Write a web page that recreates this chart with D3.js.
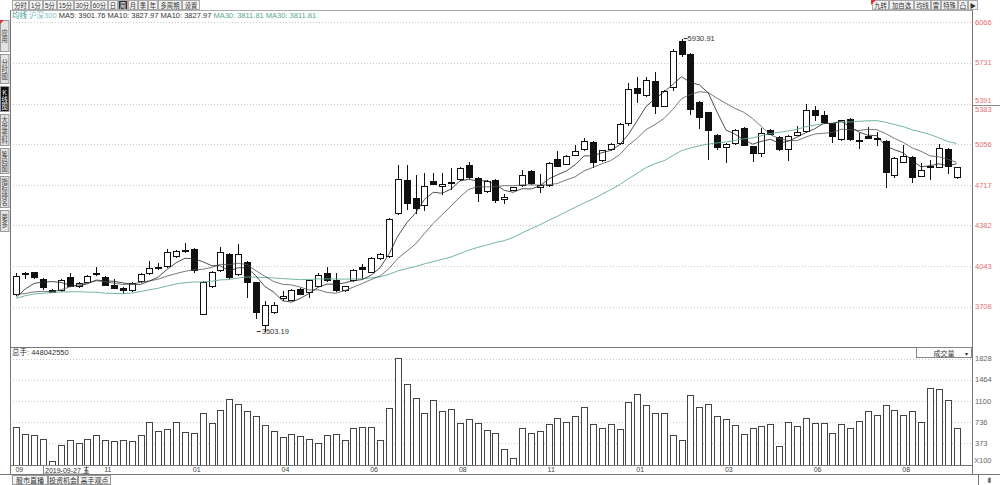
<!DOCTYPE html>
<html>
<head>
<meta charset="utf-8">
<script src="https://cdn.jsdelivr.net/npm/d3@7"></script>
<style>
  body { margin: 0; background: #fff; }
  svg { display: block; font-family: "Liberation Sans", "Noto Sans CJK SC", sans-serif; }
</style>
</head>
<body>
<div id="chart"></div>
<script>
// Datos semanales (沪深300, velas semanales)
const opens  = [3814,3980,3990,3935,3847,3840,3952,3874,3913,3975,3952,3883,3858,3841,3916,3980,4028,4040,4123,4178,4184,3648,3880,4012,4139,3972,4073,3907,3557,3662,3780,3764,3853,3825,3880,3980,3922,3841,3924,4035,3993,4110,4123,4482,4752,4606,4551,4744,4702,4730,4764,4882,4772,4661,4758,4600,4675,4716,4832,4700,4716,4929,4890,4965,5012,5072,4918,5012,5062,5227,5517,5462,5572,5370,5525,5905,5801,5398,5315,5130,5028,5062,5186,5033,4979,5166,5111,5012,5130,5158,5332,5296,5227,5097,5260,5080,5122,5105,5080,4799,4907,4946,4791,4862,4863,5015,4780]
const highs  = [3988,3995,4000,3945,3855,3935,3990,3910,3972,4037,3960,3935,3868,3910,3985,4085,4075,4185,4180,4235,4195,3920,4005,4200,4150,4230,4085,3915,3760,3745,3835,3858,3865,3932,3985,4035,3985,3882,4020,4062,4120,4155,4440,4885,4885,4800,4820,4820,4815,4855,4870,4910,4785,4755,4770,4640,4705,4845,4840,4810,4905,5000,4965,5050,5105,5080,5010,5062,5230,5560,5612,5615,5655,5505,5845,5930.91,5815,5410,5325,5140,5062,5180,5195,5040,5190,5185,5125,5135,5210,5385,5375,5330,5235,5258,5270,5150,5200,5160,5090,4950,5050,4960,4900,4925,5055,5025,4870]
const lows   = [3800,3940,3940,3850,3820,3832,3870,3866,3905,3965,3878,3855,3810,3832,3905,3972,4010,4030,4110,4150,3985,3640,3865,4000,3940,3960,3778,3610,3503.19,3650,3760,3752,3805,3783,3870,3915,3830,3830,3912,3935,3985,4100,4115,4470,4510,4480,4500,4715,4635,4680,4750,4770,4580,4650,4570,4560,4668,4705,4720,4655,4705,4865,4880,4955,5000,4860,4905,5000,5050,5205,5400,5450,5310,5360,5495,5780,5300,5180,4925,5010,4900,5050,5038,4910,4950,5130,5000,4920,5120,5150,5250,5225,5065,5085,5085,5020,5095,5040,4690,4772,4900,4735,4780,4760,4855,4805,4770]
const closes = [3955,3988,3948,3866,3828,3922,3880,3902,3963,3982,3886,3863,3839,3902,3977,4027,4033,4156,4170,4164,4012,3908,3993,4160,3952,4145,3907,3662,3717,3717,3790,3847,3814,3924,3971,3924,3839,3874,4012,4019,4110,4145,4432,4763,4565,4523,4708,4725,4725,4740,4855,4780,4648,4744,4586,4610,4697,4799,4730,4712,4896,4874,4956,4992,5075,4901,5000,5053,5221,5509,5476,5586,5370,5495,5828,5795,5343,5277,5166,5028,5053,5172,5048,4979,5145,5139,5012,5122,5149,5337,5296,5235,5116,5249,5095,5086,5105,5095,4824,4938,4956,4780,4841,4870,5020,4874,4863]
// 成交量 (x100)
const volumes = [647,532,498,446,57,332,429,372,446,498,418,401,429,401,509,733,572,613,733,555,544,876,716,944,1128,1042,915,829,675,572,469,527,486,446,372,498,515,429,630,640,647,412,973,1832,1386,1145,876,1104,915,956,716,773,716,595,544,258,115,618,544,572,687,802,733,841,991,687,618,687,601,1070,1202,1013,876,888,498,429,1185,991,1030,829,773,670,527,630,658,699,326,733,658,802,716,704,544,687,630,755,915,858,1018,932,858,915,733,1317,1300,1099,630]
// cierres semanales previos a la ventana visible (solo para las medias móviles)
const closesBefore = [3320,3530,3680,3670,3755,3840,3882,4072,3998,4130,3910,3923,3744,3607,3590,3640,3589,3660,3863,3836,3903,3818,3818,3868,3757,3644,3720,3809,3809]

const priceTicks = [6066, 5731, 5391, 5056, 4717, 4382, 4043, 3708]
const volTicks = [1828, 1464, 1100, 736, 373]
const dateTickIdx = [0, 10, 20, 30, 40, 50, 60, 70, 80, 90, 100]
const dateTickLabels = ["09", "11", "01", "04", "06", "08", "11", "01", "03", "06", "08"]
const cursorIdx = 3
const cursorDate = "2019-09-27 五"
const cursorPrice = 5383

const toolbarLeft = ["分时", "1分", "5分", "15分", "30分", "60分", "日", "周", "月", "季", "年", "多周期", "设置"]
const toolbarRight = ["九转", "加自选", "均线", "雷", "特殊", "凸", "▶"]
const sideTabs = ["应用", "分时图", "K线图", "大盘资料", "筹码图", "指标排名", "更多"]
const bottomTabs = ["股市直播", "投资机会", "高手观点"]

const W = 1000, H = 485
const left = 10, axisX = 972
const n = closes.length

const svg = d3.select("#chart").append("svg").attr("width", W).attr("height", H)

// Escalas
const x = d3.scaleBand().domain(d3.range(n)).range([12, 961])
const cx = (i) => x(i) + x.bandwidth() / 2
const y = d3.scaleLinear().domain([3708, 6066]).range([306.8, 22.3])
const yv = d3.scaleLinear().domain([0, 1828]).range([465, 358.5])
const bw = 6

// Medias móviles
const allCloses = closesBefore.concat(closes)
const ma = (k) => closes.map((c, i) => {
  const j = i + closesBefore.length
  return d3.mean(allCloses.slice(Math.max(0, j - k + 1), j + 1))
})
const ma5 = ma(5), ma10 = ma(10), ma30 = ma(30)

// Rejilla de precios
svg.append("g").selectAll("line").data(priceTicks).join("line")
  .attr("x1", left).attr("x2", axisX)
  .attr("y1", d => Math.round(y(d)) + 0.5).attr("y2", d => Math.round(y(d)) + 0.5)
  .attr("stroke", "#c8c8c8").attr("stroke-dasharray", "1,2")

svg.append("g").selectAll("text").data(priceTicks).join("text")
  .attr("x", axisX + 3).attr("y", d => y(d))
  .attr("dy", d => d === 5391 ? "-0.05em" : "0.35em")
  .attr("font-size", 7.5).attr("fill", "#e07070")
  .text(d => d)

svg.append("text").attr("x", axisX + 3).attr("y", y(cursorPrice)).attr("dy", "0.95em")
  .attr("font-size", 7.5).attr("fill", "#e07070").text(cursorPrice)
svg.append("line").attr("x1", axisX).attr("x2", W)
  .attr("y1", Math.round(y(cursorPrice)) + 0.5).attr("y2", Math.round(y(cursorPrice)) + 0.5)
  .attr("stroke", "#888")

// Rejilla de volumen
svg.append("g").selectAll("line").data(volTicks).join("line")
  .attr("x1", left).attr("x2", axisX)
  .attr("y1", d => Math.round(yv(d)) + 0.5).attr("y2", d => Math.round(yv(d)) + 0.5)
  .attr("stroke", "#c8c8c8").attr("stroke-dasharray", "1,2")

svg.append("g").selectAll("text").data(volTicks).join("text")
  .attr("x", axisX + 3).attr("y", d => yv(d)).attr("dy", "0.35em")
  .attr("font-size", 7.5).attr("fill", "#666").text(d => d)
svg.append("text").attr("x", axisX + 2).attr("y", yv(0) - 2)
  .attr("font-size", 7.5).attr("fill", "#666").text("X100")

// Velas
const candles = svg.append("g").attr("shape-rendering", "crispEdges")
candles.selectAll("line").data(closes).join("line")
  .attr("x1", (d, i) => Math.round(cx(i)) + 0.5).attr("x2", (d, i) => Math.round(cx(i)) + 0.5)
  .attr("y1", (d, i) => y(highs[i])).attr("y2", (d, i) => y(lows[i]))
  .attr("stroke", "#111")
candles.selectAll("rect").data(closes).join("rect")
  .attr("x", (d, i) => Math.round(cx(i) - bw / 2) + 0.5)
  .attr("y", (d, i) => y(Math.max(opens[i], d)))
  .attr("width", bw)
  .attr("height", (d, i) => Math.max(1, Math.abs(y(opens[i]) - y(d))))
  .attr("fill", (d, i) => d >= opens[i] ? "#fff" : "#111")
  .attr("stroke", "#111")

// Líneas de medias
const line = d3.line().x((d, i) => cx(i)).y(d => y(d))
svg.append("path").attr("d", line(ma30)).attr("fill", "none").attr("stroke", "#62ad94").attr("stroke-width", 0.9)
svg.append("path").attr("d", line(ma10)).attr("fill", "none").attr("stroke", "#555").attr("stroke-width", 0.8)
svg.append("path").attr("d", line(ma5)).attr("fill", "none").attr("stroke", "#222").attr("stroke-width", 0.8)

// Máximo y mínimo
const hi = d3.maxIndex(highs), lo = d3.minIndex(lows)
svg.append("line").attr("x1", cx(hi) + 2).attr("x2", cx(hi) + 6)
  .attr("y1", y(highs[hi])).attr("y2", y(highs[hi])).attr("stroke", "#333")
svg.append("text").attr("x", cx(hi) + 6).attr("y", y(highs[hi])).attr("dy", "0.35em")
  .attr("font-size", 7.5).attr("fill", "#333").text(highs[hi].toFixed(2))
svg.append("line").attr("x1", cx(lo) - 8).attr("x2", cx(lo) - 4)
  .attr("y1", y(lows[lo])).attr("y2", y(lows[lo])).attr("stroke", "#333")
svg.append("text").attr("x", cx(lo) - 3).attr("y", y(lows[lo])).attr("dy", "0.35em")
  .attr("font-size", 7.5).attr("fill", "#333").text(lows[lo].toFixed(2))

// Barras de volumen
svg.append("g").attr("shape-rendering", "crispEdges")
  .selectAll("rect").data(volumes).join("rect")
  .attr("x", (d, i) => Math.round(cx(i) - bw / 2) + 0.5)
  .attr("y", d => yv(d))
  .attr("width", bw)
  .attr("height", d => yv(0) - yv(d))
  .attr("fill", "#fff").attr("stroke", "#444")

// Marcos
const frame = svg.append("g").attr("stroke", "#777").attr("shape-rendering", "crispEdges")
frame.append("line").attr("x1", left).attr("x2", axisX).attr("y1", 10.5).attr("y2", 10.5).attr("stroke", "#aaa")
frame.append("line").attr("x1", left + 0.5).attr("x2", left + 0.5).attr("y1", 10).attr("y2", 474)
frame.append("line").attr("x1", axisX + 0.5).attr("x2", axisX + 0.5).attr("y1", 10).attr("y2", 474)
frame.append("line").attr("x1", left).attr("x2", axisX).attr("y1", 347.5).attr("y2", 347.5)
frame.append("line").attr("x1", left).attr("x2", axisX).attr("y1", 465.5).attr("y2", 465.5)
frame.append("line").attr("x1", 0).attr("x2", W).attr("y1", 474.5).attr("y2", 474.5)
frame.append("line").attr("x1", 978.5).attr("x2", 978.5).attr("y1", 474).attr("y2", H)

// Cabecera del volumen
svg.append("text").attr("x", 12).attr("y", 355).attr("font-size", 7.5).attr("fill", "#333").text("总手: 448042550")
svg.append("rect").attr("x", 916.5).attr("y", 347.5).attr("width", 55).attr("height", 10)
  .attr("fill", "#fff").attr("stroke", "#888")
svg.append("text").attr("x", 944).attr("y", 355.5).attr("text-anchor", "middle")
  .attr("font-size", 7).attr("fill", "#333").text("成交量")
svg.append("text").attr("x", 968).attr("y", 355.5).attr("text-anchor", "end")
  .attr("font-size", 6).attr("fill", "#333").text("▾")

// Eje de fechas
svg.append("g").selectAll("text").data(dateTickIdx).join("text")
  .attr("x", d => Math.max(12, cx(d) - 1)).attr("y", 472)
  .attr("font-size", 7).attr("fill", "#444")
  .text((d, i) => dateTickLabels[i])

const cursorBox = svg.append("g")
cursorBox.append("rect").attr("x", Math.round(cx(cursorIdx)) + 0.5).attr("y", 465.5)
  .attr("width", 43).attr("height", 8.5).attr("fill", "#fff").attr("stroke", "#888")
cursorBox.append("text").attr("x", cx(cursorIdx) + 2).attr("y", 472.5)
  .attr("font-size", 7).attr("fill", "#333").text(cursorDate)

// Leyenda superior
const legend = svg.append("text").attr("x", 12).attr("y", 18).attr("font-size", 7.5)
legend.append("tspan").attr("fill", "#3a9a9a").text("均线 ")
legend.append("tspan").attr("fill", "#7fbfbf").text("沪深300 ")
legend.append("tspan").attr("fill", "#333").text("MA5: 3901.76 MA10: 3827.97 MA10: 3827.97 ")
legend.append("tspan").attr("fill", "#58a88c").text("MA30: 3811.81 MA30: 3811.81")

// Barra de herramientas
const tbW = [17, 14, 14, 17, 17, 17, 10, 10, 10, 10, 10, 24, 18]
let tx = 12
const tb = svg.append("g")
toolbarLeft.forEach((t, i) => {
  const sel = t === "周"
  tb.append("rect").attr("x", tx + 0.5).attr("y", 0.5).attr("width", tbW[i] - 1).attr("height", 9)
    .attr("fill", sel ? "#333" : "#f2f2f2").attr("stroke", "#aaa")
  tb.append("text").attr("x", tx + tbW[i] / 2).attr("y", 7.8).attr("text-anchor", "middle")
    .attr("font-size", 6.3).attr("fill", sel ? "#fff" : "#333").text(t)
  tx += tbW[i]
})

const trW = [17, 25, 17, 10, 17, 10, 10]
tx = 872
toolbarRight.forEach((t, i) => {
  tb.append("rect").attr("x", tx + 0.5).attr("y", 0.5).attr("width", trW[i] - 1).attr("height", 9)
    .attr("fill", "#f2f2f2").attr("stroke", "#aaa")
  tb.append("text").attr("x", tx + trW[i] / 2).attr("y", 7.8).attr("text-anchor", "middle")
    .attr("font-size", 6.3).attr("fill", "#333").text(t)
  tx += trW[i]
})
tb.append("path").attr("d", "M871,0 L876,0 L871,5 Z").attr("fill", "#d33")

// Pestañas laterales
const sideY = [20, 54, 86, 114, 148, 176, 210]
const sideH = [32, 30, 26, 32, 26, 32, 22]
const side = svg.append("g")
sideTabs.forEach((t, i) => {
  const sel = t === "K线图"
  side.append("rect").attr("x", 0.5).attr("y", sideY[i] + 0.5).attr("width", 8.5).attr("height", sideH[i] - 1)
    .attr("fill", sel ? "#111" : "#e2e2e2").attr("stroke", "#999")
  const chars = Array.from(t)
  const startY = sideY[i] + sideH[i] / 2 - (chars.length * 7) / 2 + 6
  chars.forEach((c, k) => {
    side.append("text").attr("x", 4.7).attr("y", startY + k * 7).attr("text-anchor", "middle")
      .attr("font-size", 6.3).attr("fill", sel ? "#fff" : "#444").text(c)
  })
})
side.append("path").attr("d", "M0,20 L4,20 L0,24 Z").attr("fill", "#d33")

// Pestañas inferiores
const btW = [36, 30, 33]
tx = 12
bottomTabs.forEach((t, i) => {
  svg.append("rect").attr("x", tx + 0.5).attr("y", 475.5).attr("width", btW[i] - 1).attr("height", 9)
    .attr("fill", "#f4f4f4").attr("stroke", "#999")
  svg.append("text").attr("x", tx + btW[i] / 2).attr("y", 483).attr("text-anchor", "middle")
    .attr("font-size", 7).attr("fill", "#333").text(t)
  tx += btW[i]
})
svg.append("text").attr("x", 989).attr("y", 483).attr("text-anchor", "middle")
  .attr("font-size", 8).attr("fill", "#333").text("⇟")
</script>
</body>
</html>
